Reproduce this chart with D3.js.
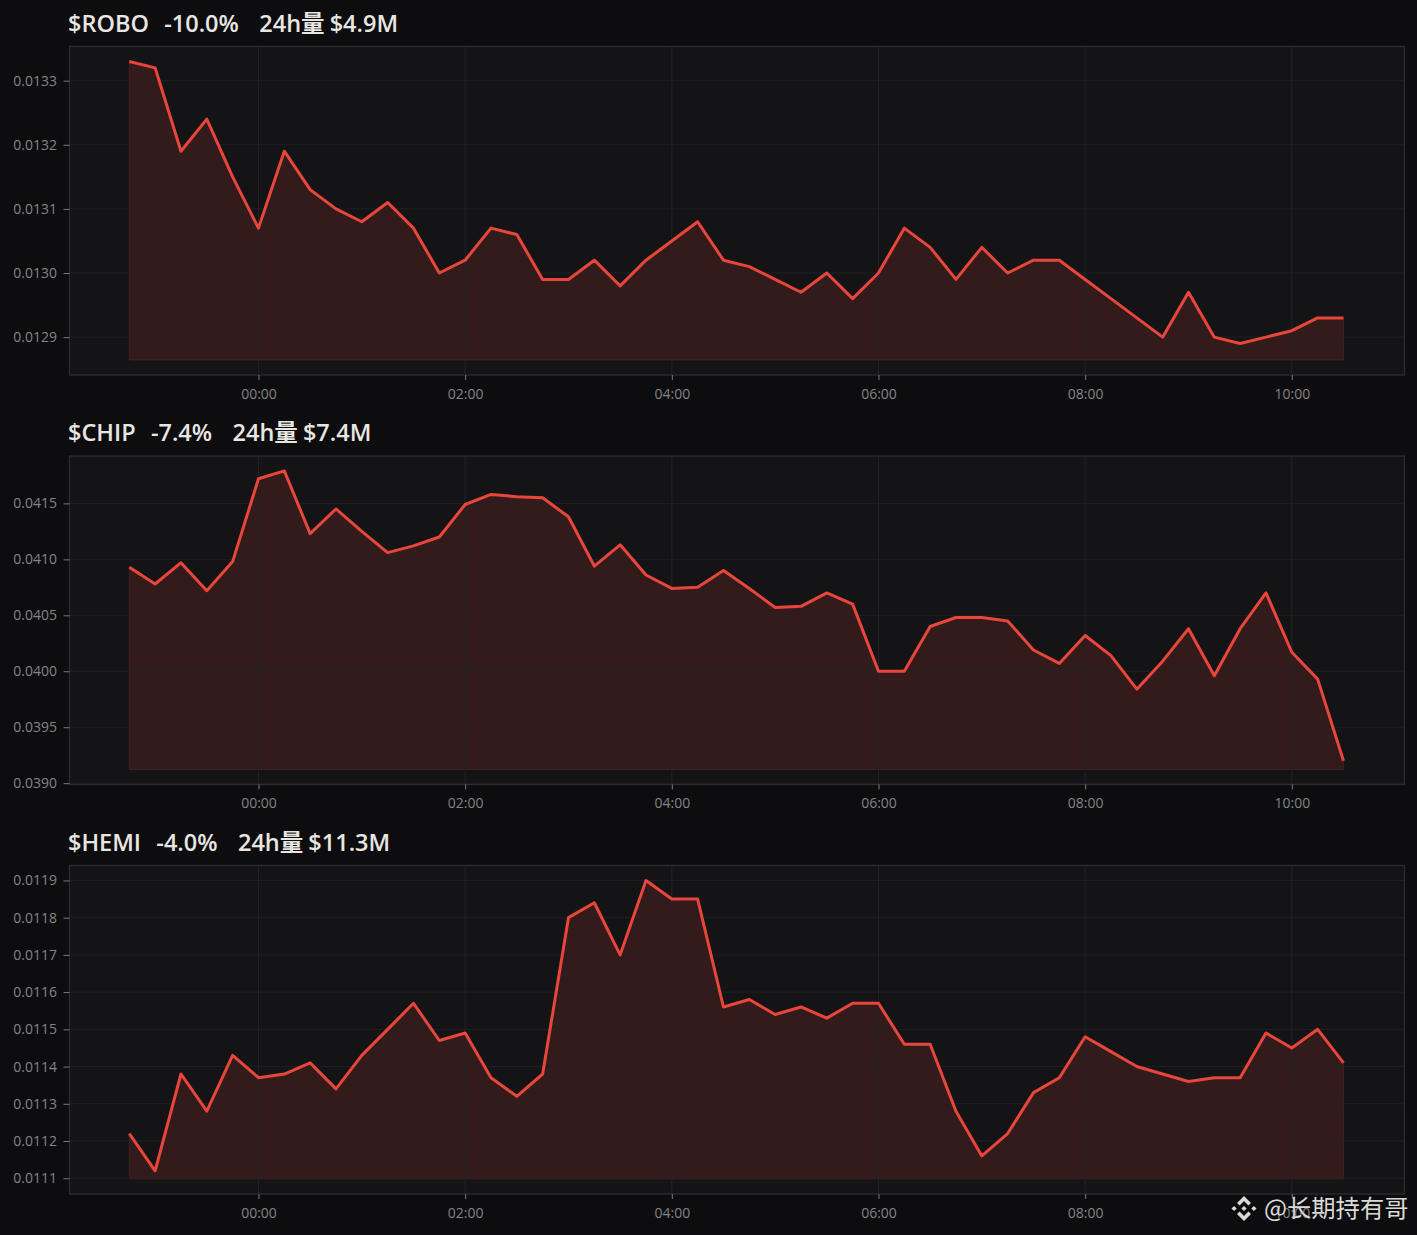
<!DOCTYPE html>
<html>
<head>
<meta charset="utf-8">
<script src="https://cdn.jsdelivr.net/npm/d3@7"></script>
<style>
  html, body { margin: 0; padding: 0; background: #0d0d0f; }
  svg { display: block; }
  text { font-family: "Open Sans", "Noto Sans CJK SC", sans-serif; }
</style>
</head>
<body>
<div id="chart"></div>
<script>
var robo = [0.01333, 0.01332, 0.01319, 0.01324, 0.01315, 0.01307, 0.01319, 0.01313, 0.01310, 0.01308, 0.01311, 0.01307,
  0.01300, 0.01302, 0.01307, 0.01306, 0.01299, 0.01299, 0.01302, 0.01298, 0.01302, 0.01305, 0.01308, 0.01302,
  0.01301, 0.01299, 0.01297, 0.01300, 0.01296, 0.01300, 0.01307, 0.01304, 0.01299, 0.01304, 0.01300, 0.01302,
  0.01302, 0.01299, 0.01296, 0.01293, 0.01290, 0.01297, 0.01290, 0.01289, 0.01290, 0.01291, 0.01293, 0.01293];
var chip = [0.04093, 0.04078, 0.04097, 0.04072, 0.04098, 0.04172, 0.04179, 0.04123, 0.04145, 0.04125, 0.04106, 0.04112,
  0.04120, 0.04149, 0.04158, 0.04156, 0.04155, 0.04138, 0.04094, 0.04113, 0.04086, 0.04074, 0.04075, 0.04090,
  0.04074, 0.04057, 0.04058, 0.04070, 0.04060, 0.04000, 0.04000, 0.04040, 0.04048, 0.04048, 0.04045, 0.04019,
  0.04007, 0.04032, 0.04014, 0.03984, 0.04009, 0.04038, 0.03996, 0.04038, 0.04070, 0.04017, 0.03993, 0.03920];
var hemi = [0.01122, 0.01112, 0.01138, 0.01128, 0.01143, 0.01137, 0.01138, 0.01141, 0.01134, 0.01143, 0.01150, 0.01157,
  0.01147, 0.01149, 0.01137, 0.01132, 0.01138, 0.01180, 0.01184, 0.01170, 0.01190, 0.01185, 0.01185, 0.01156,
  0.01158, 0.01154, 0.01156, 0.01153, 0.01157, 0.01157, 0.01146, 0.01146, 0.01128, 0.01116, 0.01122, 0.01133,
  0.01137, 0.01148, 0.01144, 0.01140, 0.01138, 0.01136, 0.01137, 0.01137, 0.01149, 0.01145, 0.01150, 0.01141];

var titles = ["$ROBO   -10.0%    24h量 $4.9M", "$CHIP   -7.4%    24h量 $7.4M", "$HEMI   -4.0%    24h量 $11.3M"];
var roboTicks = [0.0129, 0.0130, 0.0131, 0.0132, 0.0133];
var chipTicks = [0.0390, 0.0395, 0.0400, 0.0405, 0.0410, 0.0415];
var hemiTicks = [0.0111, 0.0112, 0.0113, 0.0114, 0.0115, 0.0116, 0.0117, 0.0118, 0.0119];
var hourTicks = ["00:00", "02:00", "04:00", "06:00", "08:00", "10:00"];
var watermark = "@长期持有哥";

var parseHour = d3.utcParse("%H:%M");
var start = d3.utcMinute.offset(parseHour("00:00"), -75);   // first sample 22:45 the day before

var svg = d3.select("#chart").append("svg").attr("width", 1417).attr("height", 1235);

function drawPanel(values, yTicks, title, top, bottom) {
  var left = 69.5, right = 1404.5;
  var data = values.map(function(v, i) {
    return { t: d3.utcMinute.offset(start, i * 15), v: v };
  });

  var t0 = data[0].t, t1 = data[data.length - 1].t;
  var padT = (t1 - t0) * 0.05;
  var x = d3.scaleUtc().domain([+t0 - padT, +t1 + padT]).range([left - 0.9, right - 0.3]);

  var base = d3.min(values) * 0.998;
  var padV = (d3.max(values) - base) * 0.05;
  var y = d3.scaleLinear().domain([base - padV, d3.max(values) + padV]).range([bottom, top]);

  var g = svg.append("g");
  g.append("rect").attr("x", left).attr("y", top).attr("width", right - left).attr("height", bottom - top)
    .attr("fill", "#141416");

  var area = d3.area().x(function(d) { return x(d.t); }).y0(y(base)).y1(function(d) { return y(d.v); });
  var line = d3.line().x(function(d) { return x(d.t); }).y(function(d) { return y(d.v); });

  g.append("path").datum(data).attr("d", area)
    .attr("fill", "#e8463a").attr("fill-opacity", 0.15)
    .attr("stroke", "#e8463a").attr("stroke-opacity", 0.17).attr("stroke-width", 1);

  var xTickVals = hourTicks.map(function(h) { return parseHour(h); });

  // grid sits over the fill
  g.selectAll(".gy").data(yTicks).enter().append("line")
    .attr("x1", left).attr("x2", right)
    .attr("y1", function(d) { return y(d); }).attr("y2", function(d) { return y(d); })
    .attr("stroke", "#22232a").attr("stroke-opacity", 0.8).attr("stroke-width", 1);
  g.selectAll(".gx").data(xTickVals).enter().append("line")
    .attr("y1", top).attr("y2", bottom)
    .attr("x1", function(d) { return x(d); }).attr("x2", function(d) { return x(d); })
    .attr("stroke", "#22232a").attr("stroke-width", 1);

  g.append("path").datum(data).attr("d", line)
    .attr("fill", "none").attr("stroke", "#e8463a").attr("stroke-width", 3).attr("stroke-linejoin", "round");

  g.append("rect").attr("x", left).attr("y", top).attr("width", right - left).attr("height", bottom - top)
    .attr("fill", "none").attr("stroke", "#2c2d31").attr("stroke-width", 1.3);

  var xAxis = d3.axisBottom(x).tickValues(xTickVals).tickFormat(d3.utcFormat("%H:%M")).tickSize(5).tickPadding(9);
  var gx = g.append("g").attr("transform", "translate(0," + bottom + ")").call(xAxis);
  var yAxis = d3.axisLeft(y).tickValues(yTicks).tickFormat(d3.format(".4f")).tickSize(6).tickPadding(6.5);
  var gy = g.append("g").attr("transform", "translate(" + left + ",0)").call(yAxis);

  [gx, gy].forEach(function(a) {
    a.select(".domain").remove();
    a.selectAll("line").attr("stroke", "#7a7a7a");
    a.selectAll("text").attr("fill", "#848484").style("font-size", "14px")
      .style("font-family", "'Open Sans', sans-serif");
  });

  g.append("text").attr("x", 68).attr("y", top - 15)
    .attr("fill", "#e8e6e1").style("font-size", "23.5px").style("font-weight", 600)
    .style("white-space", "pre").style("word-spacing", "-1px").text(title);
}

drawPanel(robo, roboTicks, titles[0], 46.5, 375);
drawPanel(chip, chipTicks, titles[1], 456, 784.5);
drawPanel(hemi, hemiTicks, titles[2], 865.5, 1194);

// watermark, logo is 4 chevrons round a middle diamond
var wm = svg.append("g").attr("fill", "#d9d9d6");
var logo = wm.append("g").attr("transform", "translate(1244,1208.5)");
logo.append("path").attr("d", d3.line()([[0, -2.6], [2.6, 0], [0, 2.6], [-2.6, 0]]));
[0, 90, 180, 270].forEach(function(r) {
  var shape = r % 180 === 0
    ? [[0, -12.5], [7, -5.5], [4.4, -3], [0, -7.4], [-4.4, -3], [-7, -5.5]]
    : [[0, -12.5], [2.6, -9.9], [0, -7.3], [-2.6, -9.9]];
  logo.append("path").attr("transform", "rotate(" + r + ")").attr("d", d3.line()(shape));
});
wm.append("text").attr("x", 1264).attr("y", 1217).style("font-size", "24.3px")
  .style("font-family", "'Noto Sans CJK SC', sans-serif").text(watermark);
</script>
</body>
</html>
